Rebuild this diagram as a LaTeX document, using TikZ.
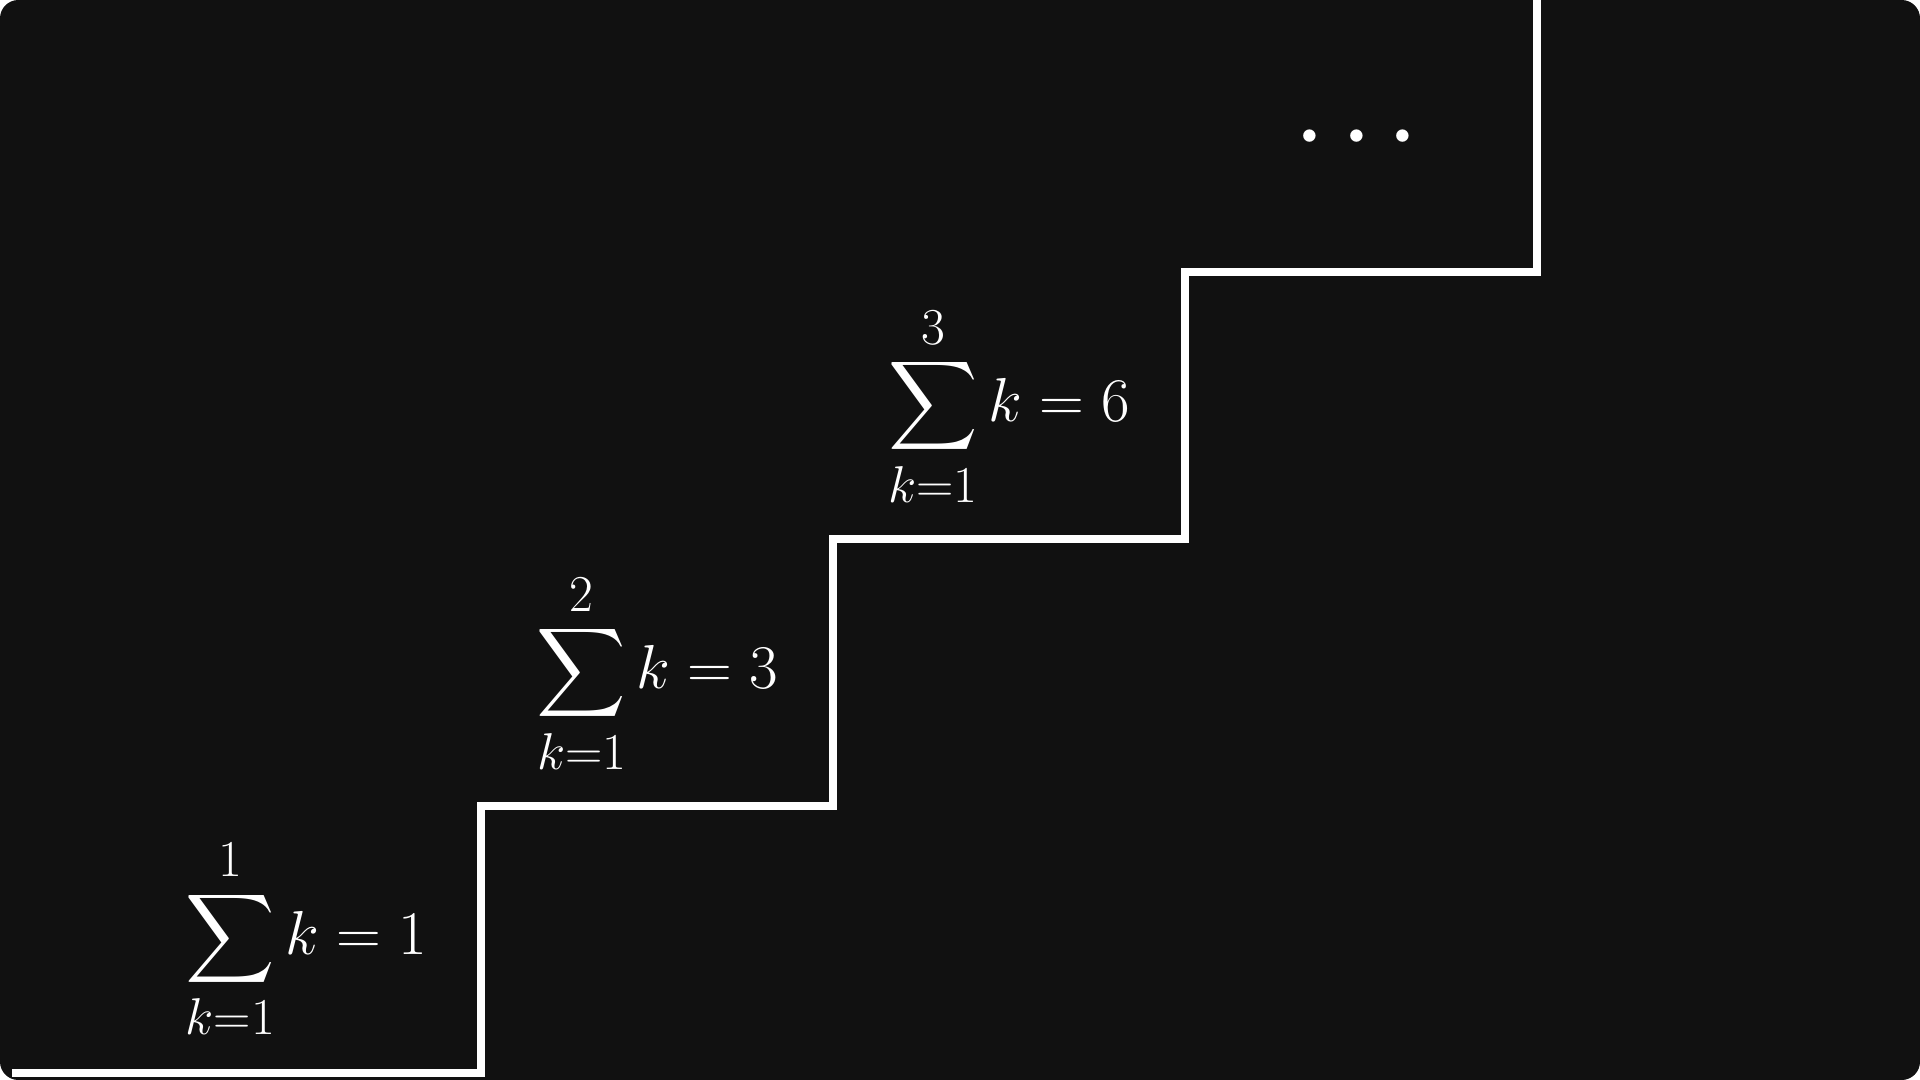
\documentclass[tikz,border=0pt]{standalone}
\usepackage{amsmath,graphicx}
\definecolor{bg}{HTML}{111111}
\begin{document}
\begin{tikzpicture}[x=0.02cm,y=-0.02cm,
  stair/.style={white,line width=0.13cm,line join=miter},
  eq/.style={white,font=\fontsize{24.88}{30}\selectfont,inner sep=0}]
\fill[white] (0,0) rectangle (1568,882);
\useasboundingbox (0,0) rectangle (1568,882);
\fill[bg,rounded corners=0.3cm] (0,0) rectangle (1568,882);
\coordinate (p0) at (10,876);
\coordinate (p1) at (393,876);
\coordinate (p2) at (393,658);
\coordinate (p3) at (680,658);
\coordinate (p4) at (680,440);
\coordinate (p5) at (968,440);
\coordinate (p6) at (968,222);
\coordinate (p7) at (1255,222);
\coordinate (p8) at (1255,0);
\draw[stair] (p0)--(p1)--(p2)--(p3)--(p4)--(p5)--(p6)--(p7)--(p8);
\node[eq] (s1) at (250,767) {\scalebox{1.16}{$\displaystyle\sum_{k=1}^{1} k = 1$}};
\node[eq] (s2) at (537,550) {\scalebox{1.16}{$\displaystyle\sum_{k=1}^{2} k = 3$}};
\node[eq] (s3) at (824,332) {\scalebox{1.16}{$\displaystyle\sum_{k=1}^{3} k = 6$}};
\node[white,inner sep=0,font=\fontsize{24.88}{30}\selectfont] (dots) at (1108,114) {\makebox[0.76cm]{\scalebox{2.2}{$\cdot$}}\makebox[0.76cm]{\scalebox{2.2}{$\cdot$}}\makebox[0.76cm]{\scalebox{2.2}{$\cdot$}}};
\end{tikzpicture}
\end{document}
